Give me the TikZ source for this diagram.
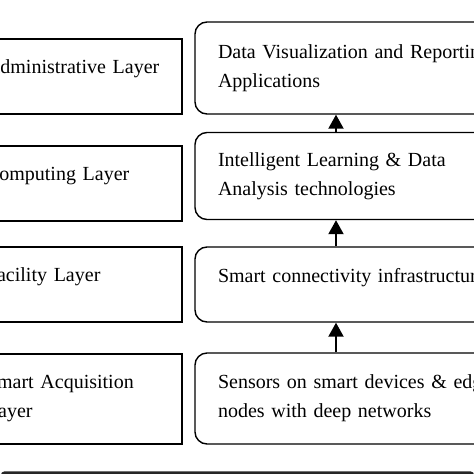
\documentclass[tikz,border=0pt]{standalone}
\usepackage{fontspec}
\setmainfont{Liberation Serif}
\usetikzlibrary{arrows.meta}
\tikzset{
  layer/.style={draw, line width=1.4pt, minimum width=212pt, text width=180pt,
    inner xsep=16pt, align=left, font=\fontsize{20}{29}\selectfont},
  tech/.style={layer, rounded corners=12pt, minimum width=346pt, text width=300pt, inner xsep=23pt},
  oneline/.style={text depth=19pt},
  flow/.style={line width=2pt, -{Triangle[width=15pt,length=14pt]}}
}
\begin{document}
\begin{tikzpicture}[x=1pt,y=-1pt]
\useasboundingbox (0,0) rectangle (474,474);
\clip (0,0) rectangle (474,474);
% the layers on the left
\node[layer, oneline, minimum height=75pt] (admin) at (76,76.5) {Administrative Layer};
\node[layer, oneline, minimum height=75pt] (comp) at (76,183.5) {Computing Layer};
\node[layer, oneline, minimum height=75pt] (facil) at (76,284.5) {Facility Layer};
\node[layer, minimum height=90pt] (acq) at (76,399) {Smart Acquisition\\Layer};
% the technologies on the right
\node[tech, minimum height=92pt] (vis) at (368,68) {Data Visualization and Reporting\\Applications};
\node[tech, minimum height=87pt] (learn) at (368,176) {Intelligent Learning \& Data\\Analysis technologies};
\node[tech, oneline, minimum height=75pt] (conn) at (368,284.5) {Smart connectivity infrastructure};
\node[tech, minimum height=91pt] (sense) at (368,398.5) {Sensors on smart devices \& edge\\nodes with deep networks};
% arrows between them
\coordinate (ax) at (336,0);
\foreach \a/\b in {sense/conn, conn/learn, learn/vis}
  \draw[flow] (\a.north -| ax) -- (\b.south -| ax);
% edge of the frame below
\draw[line width=2.5pt, color=black!85, rounded corners=3pt] (2,490) -- (2,472.5) -- (473,472.5) -- (473,490);
\end{tikzpicture}
\end{document}
